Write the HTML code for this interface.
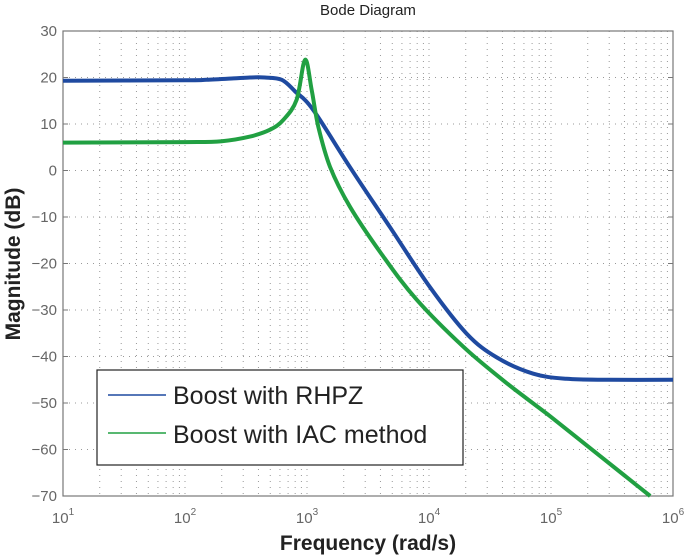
<!DOCTYPE html>
<html><head><meta charset="utf-8"><style>
html,body{margin:0;padding:0;background:#fff;}
svg{display:block;font-family:"Liberation Sans",Arial,sans-serif;}
</style></head><body>
<svg id="chart" width="685" height="555" viewBox="0 0 685 555"></svg>
<script>
const yTicks=[30,20,10,0,-10,-20,-30,-40,-50,-60,-70];
const xDecades=[1,2,3,4,5,6];
const blueFreq=[10,100,150,250,341,450,621,800,1127,2250,4790,10190,20370,35900,71600,134000,300000,1000000];
const blueMag=[19.3,19.4,19.5,19.8,20,20,19.5,17,13,0.7,-12.2,-25.1,-35.1,-40.2,-43.7,-44.8,-45,-45];
const greenFreq=[10,100,200,341,500,640,822,964,1093,1238,1545,2250,4220,7940,19100,40000,63000,100000,200000,400000,650000];
const greenMag=[6,6.1,6.3,7.3,8.8,10.9,15.2,23.8,17.3,9.4,0.8,-7.8,-18.5,-27.8,-37.9,-45,-49,-53,-59.3,-65.6,-70];
const L=63,R=673,T=31,B=496;
const NS="http://www.w3.org/2000/svg";
const svg=document.getElementById('chart');
function X(f){return L+(Math.log10(f)-1)/5*(R-L);}
function Y(v){return T+(30-v)/100*(B-T);}
function mk(tag,attrs,parent){const e=document.createElementNS(NS,tag);for(const k in attrs)e.setAttribute(k,attrs[k]);(parent||svg).appendChild(e);return e;}
const grid=mk('g',{});


yTicks.forEach(v=>{if(v===30||v===-70)return;const l=mk('line',{x1:L,x2:R,y1:Y(v),y2:Y(v),stroke:'#999','stroke-width':1,'stroke-dasharray':'1,5'},grid);

});
for(let d=1;d<6;d++){for(let m=1;m<10;m++){const f=Math.pow(10,d)*m;if(m===1&&d===1)continue;const l=mk('line',{x1:X(f),x2:X(f),y1:T,y2:B,stroke:'#999','stroke-width':1,'stroke-dasharray':'1,5'},grid);

}}
const box=mk('rect',{x:L,y:T,width:R-L,height:B-T,fill:'none',stroke:'#777','stroke-width':1.2});


yTicks.forEach(v=>{const t=mk('text',{x:L-6,y:Y(v)+5,'text-anchor':'end','font-size':15,fill:'#666'});t.textContent=(v<0?'\u2212'+(-v):v);


mk('line',{x1:L,x2:L+5,y1:Y(v),y2:Y(v),stroke:'#777'});mk('line',{x1:R-5,x2:R,y1:Y(v),y2:Y(v),stroke:'#777'});});
xDecades.forEach(d=>{const x=X(Math.pow(10,d));const t=mk('text',{x:x,y:B+27,'text-anchor':'middle','font-size':15,fill:'#666'});


const a=mk('tspan',{},t);a.textContent='10';const s=mk('tspan',{dy:-8,'font-size':10},t);s.textContent=d;});
function line(fr,mg,col,name){
  const P=fr.map((f,i)=>[X(f),Y(mg[i])]);
  let d='M'+P[0][0].toFixed(1)+','+P[0][1].toFixed(1);
  for(let i=0;i<P.length-1;i++){
    const p0=P[Math.max(0,i-1)],p1=P[i],p2=P[i+1],p3=P[Math.min(P.length-1,i+2)];
    const c1=[p1[0]+(p2[0]-p0[0])/6,p1[1]+(p2[1]-p0[1])/6];
    const c2=[p2[0]-(p3[0]-p1[0])/6,p2[1]-(p3[1]-p1[1])/6];
    d+='C'+c1[0].toFixed(1)+','+c1[1].toFixed(1)+' '+c2[0].toFixed(1)+','+c2[1].toFixed(1)+' '+p2[0].toFixed(1)+','+p2[1].toFixed(1);
  }
  const p=mk('path',{d:d,fill:'none',stroke:col,'stroke-width':4,'stroke-linejoin':'round'});
  
  
}
line(blueFreq,blueMag,'#1f4aa0','series-rhpz');
line(greenFreq,greenMag,'#21a042','series-iac');
const lg=mk('g',{});


mk('rect',{x:97,y:370,width:366,height:95,fill:'#fff',stroke:'#222','stroke-width':1.2},lg);
mk('line',{x1:108,x2:166,y1:395,y2:395,stroke:'#1f4aa0','stroke-width':1.5},lg);
mk('line',{x1:108,x2:166,y1:433,y2:433,stroke:'#21a042','stroke-width':1.5},lg);
const t1=mk('text',{x:173,y:404,'font-size':25,fill:'#222'},lg);t1.textContent='Boost with RHPZ';


const t2=mk('text',{x:173,y:443,'font-size':25,fill:'#222'},lg);t2.textContent='Boost with IAC method';


const ti=mk('text',{x:368,y:15,'text-anchor':'middle','font-size':15,fill:'#222'});ti.textContent='Bode Diagram';


const xl=mk('text',{x:368,y:550,'text-anchor':'middle','font-size':21,'font-weight':'bold',fill:'#222'});xl.setAttribute('xml:space','preserve');xl.textContent='Frequency  (rad/s)';


const yl=mk('text',{x:0,y:0,'text-anchor':'middle','font-size':21,'font-weight':'bold',fill:'#222',transform:'translate(20,264) rotate(-90)'});yl.textContent='Magnitude (dB)';


</script>
</body></html>
